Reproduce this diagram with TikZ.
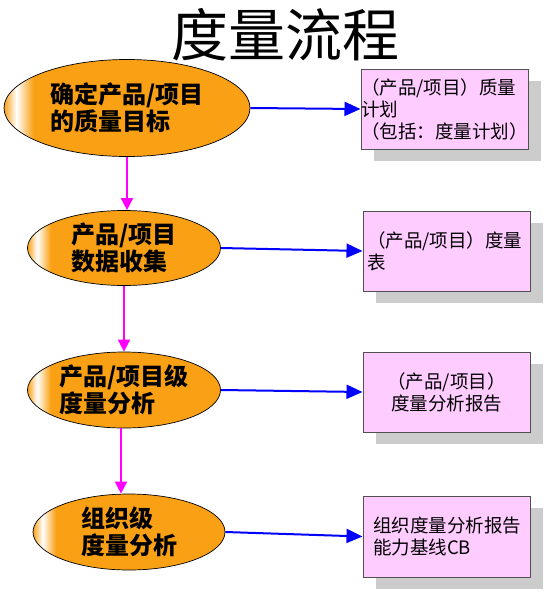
\documentclass[tikz,border=0pt]{standalone}
\usepackage{fontspec}
\setmainfont{Noto Sans CJK SC}
\usetikzlibrary{arrows.meta,shadows,shapes.geometric}
\definecolor{orfill}{RGB}{250,160,20}
\definecolor{boxfill}{RGB}{255,204,255}
\definecolor{boxline}{RGB}{80,80,80}
\definecolor{shadowgray}{RGB}{204,204,204}
\definecolor{flowmag}{RGB}{255,0,255}
\definecolor{linkblue}{RGB}{0,0,255}
\pgfdeclarehorizontalshading{ellshade}{100bp}{color(0bp)=(orfill); color(25bp)=(orfill); color(27.5bp)=(white); color(31bp)=(orfill); color(100bp)=(orfill)}
\begin{document}
\begin{tikzpicture}[x=1pt,y=-1pt,
  stage/.style={ellipse, draw=black, line width=0.7pt, shade, shading=ellshade, inner sep=0pt, align=left, font=\fontsize{24}{27}\selectfont\bfseries},
  doc/.style={rectangle, draw=boxline, line width=1pt, fill=boxfill, drop shadow={shadow xshift=13pt, shadow yshift=-12pt, fill=shadowgray, opacity=1}, minimum width=167pt, minimum height=80pt, font=\fontsize{18.5}{22}\selectfont},
  flow/.style={draw=flowmag, line width=1.6pt, -{Triangle[length=12pt,width=12pt]}},
  link/.style={draw=linkblue, line width=2pt, -{Triangle[length=16pt,width=14pt]}}
]
\useasboundingbox (0,0) rectangle (556,600);
\node (title) at (285,35) {\fontsize{57}{60}\selectfont 度量流程};

\node[stage, minimum width=246pt, minimum height=97pt] (e1) at (127,108) {确定产品/项目\\的质量目标};
\node[stage, minimum width=193pt, minimum height=75pt] (e2) at (124,248) {产品/项目\\数据收集};
\node[stage, minimum width=193pt, minimum height=76pt] (e3) at (124,390) {产品/项目级\\度量分析};
\node[stage, minimum width=192pt, minimum height=76pt] (e4) at (129,532) {组织级\\度量分析};

\node[doc, text width=167pt, inner xsep=0pt, align=left] (b1) at (444.5,109) {（产品/项目）质量\\计划\\（包括：度量计划）};
\node[doc, text width=159pt, inner xsep=4pt, align=left] (b2) at (446.5,251) {（产品/项目）度量\\表};
\node[doc, text width=159pt, inner xsep=4pt, align=center] (b3) at (446.5,392) {（产品/项目）\\度量分析报告};
\node[doc, text width=147pt, inner xsep=10pt, align=left, minimum height=81pt] (b4) at (446.5,536.5) {组织度量分析报告\\能力基线CB};

\draw[flow] (e1.south) -- (e1.south |- e2.north);
\draw[flow] (e2.south) -- (e2.south |- e3.north);
\draw[flow] ([xshift=-3pt]e3.south) -- ([xshift=-3pt]e3.south |- e4.north);

\draw[link] (e1.east) -- (b1.west);
\draw[link] (e2.east) -- (b2.west);
\draw[link] (e3.east) -- (b3.west);
\draw[link] (e4.east) -- (b4.west);
\end{tikzpicture}
\end{document}
